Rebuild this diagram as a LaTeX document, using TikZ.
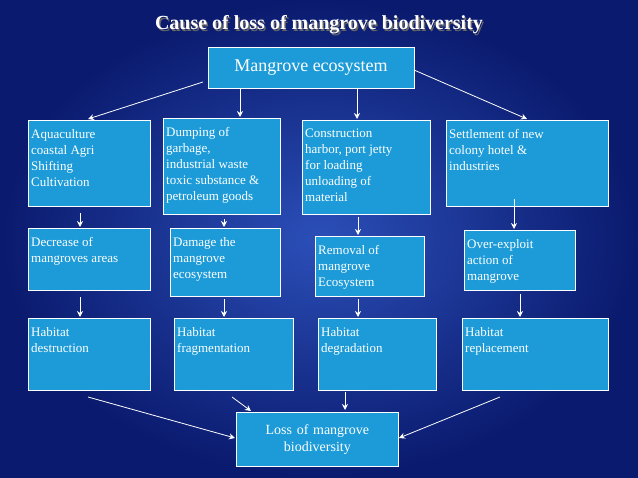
\documentclass[tikz,border=0pt]{standalone}
\usepackage{fontspec}
\setmainfont{Liberation Serif}
\usetikzlibrary{arrows.meta}
\definecolor{bgdark}{HTML}{0A1A6E}
\definecolor{bglight}{HTML}{2B4FB8}
\definecolor{boxc}{HTML}{1C9BD8}
\tikzset{
  bx/.style={draw=white, line width=0.8pt, fill=boxc, text=white, align=left, anchor=north west, inner sep=0pt, font=\fontsize{13}{16}\selectfont},
  ar/.style={draw=white, line width=0.8pt, -{Stealth[length=6pt,width=6pt]}}
}
\newcommand{\bbox}[6]{\node[bx, minimum width=#4-#2, minimum height=#5-#3] (#1) at (#2,#3) {};
\node[text=white, anchor=north west, inner sep=0pt, align=left, font=\fontsize{13}{16}\selectfont] at (#2+3,#3+9) {#6};}
\begin{document}
\begin{tikzpicture}[x=1pt,y=-1pt]
\useasboundingbox (0,0) rectangle (638,478);
\shade[inner color=bglight, outer color=bgdark] (0,0) rectangle (638,478);
\node[text=black!60, font=\bfseries\fontsize{20}{22}\selectfont] at (320.5,26.5) {Cause of loss of mangrove biodiversity};
\node[text=white, font=\bfseries\fontsize{20}{22}\selectfont] (title) at (319,25) {Cause of loss of mangrove biodiversity};
\node[bx, anchor=center, minimum width=206, minimum height=41, font=\fontsize{18}{20}\selectfont, align=center] (top) at (311,67.5) {Mangrove ecosystem};
\bbox{a1}{28}{120}{150}{206}{Aquaculture\\coastal Agri\\Shifting\\Cultivation}
\bbox{b1}{163}{118}{280}{214}{Dumping of\\garbage,\\industrial waste\\toxic substance \&\\petroleum goods}
\bbox{c1}{302}{120}{430}{214}{Construction\\harbor, port jetty\\for loading\\unloading of\\material}
\bbox{d1}{446}{120}{608}{206}{Settlement of new\\colony hotel \&\\industries}
\bbox{a2}{28}{228}{150}{290}{Decrease of\\mangroves areas}
\bbox{b2}{170}{228}{280}{296}{Damage the\\mangrove\\ecosystem}
\bbox{c2}{315}{236}{424}{296}{Removal of\\mangrove\\Ecosystem}
\bbox{d2}{464}{230}{575}{290}{Over-exploit\\action of\\mangrove}
\bbox{a3}{28}{318}{150}{390}{Habitat\\destruction}
\bbox{b3}{174}{318}{293}{390}{Habitat\\fragmentation}
\bbox{c3}{318}{318}{436}{390}{Habitat\\degradation}
\bbox{d3}{462}{318}{608}{390}{Habitat\\replacement}
\node[bx, anchor=north west, minimum width=162, minimum height=54, text width=150, font=\fontsize{14}{17}\selectfont, align=center] (loss) at (236,412) {Loss of mangrove\\biodiversity};
\coordinate (t1) at (203,82);
\draw[ar] (t1) -- (88,119);
\draw[ar] (top.south -| 240,0) -- (240,117);
\draw[ar] (top.south -| 357,0) -- (357,119);
\draw[ar] (414,70) -- (527,119);
\draw[ar] (a1.south -| 80,0) ++(0,6) -- (80,227);
\draw[ar] (b1.south -| 224,0) ++(0,4) -- (224,227);
\draw[ar] (c1.south -| 358,0) ++(0,2) -- (358,235);
\draw[ar] (d1.south -| 514,0) ++(0,-8) -- (514,229);
\draw[ar] (a2.south -| 80,0) ++(0,6) -- (80,317);
\draw[ar] (b2.south -| 224,0) ++(0,2) -- (224,317);
\draw[ar] (c2.south -| 358,0) ++(0,2) -- (358,317);
\draw[ar] (d2.south -| 520,0) ++(0,3) -- (520,317);
\draw[ar] (88,397) -- (235,438);
\draw[ar] (232,397) -- (251,411);
\draw[ar] (345,392) -- (345,410);
\draw[ar] (500,397) -- (399,438);
\end{tikzpicture}
\end{document}
